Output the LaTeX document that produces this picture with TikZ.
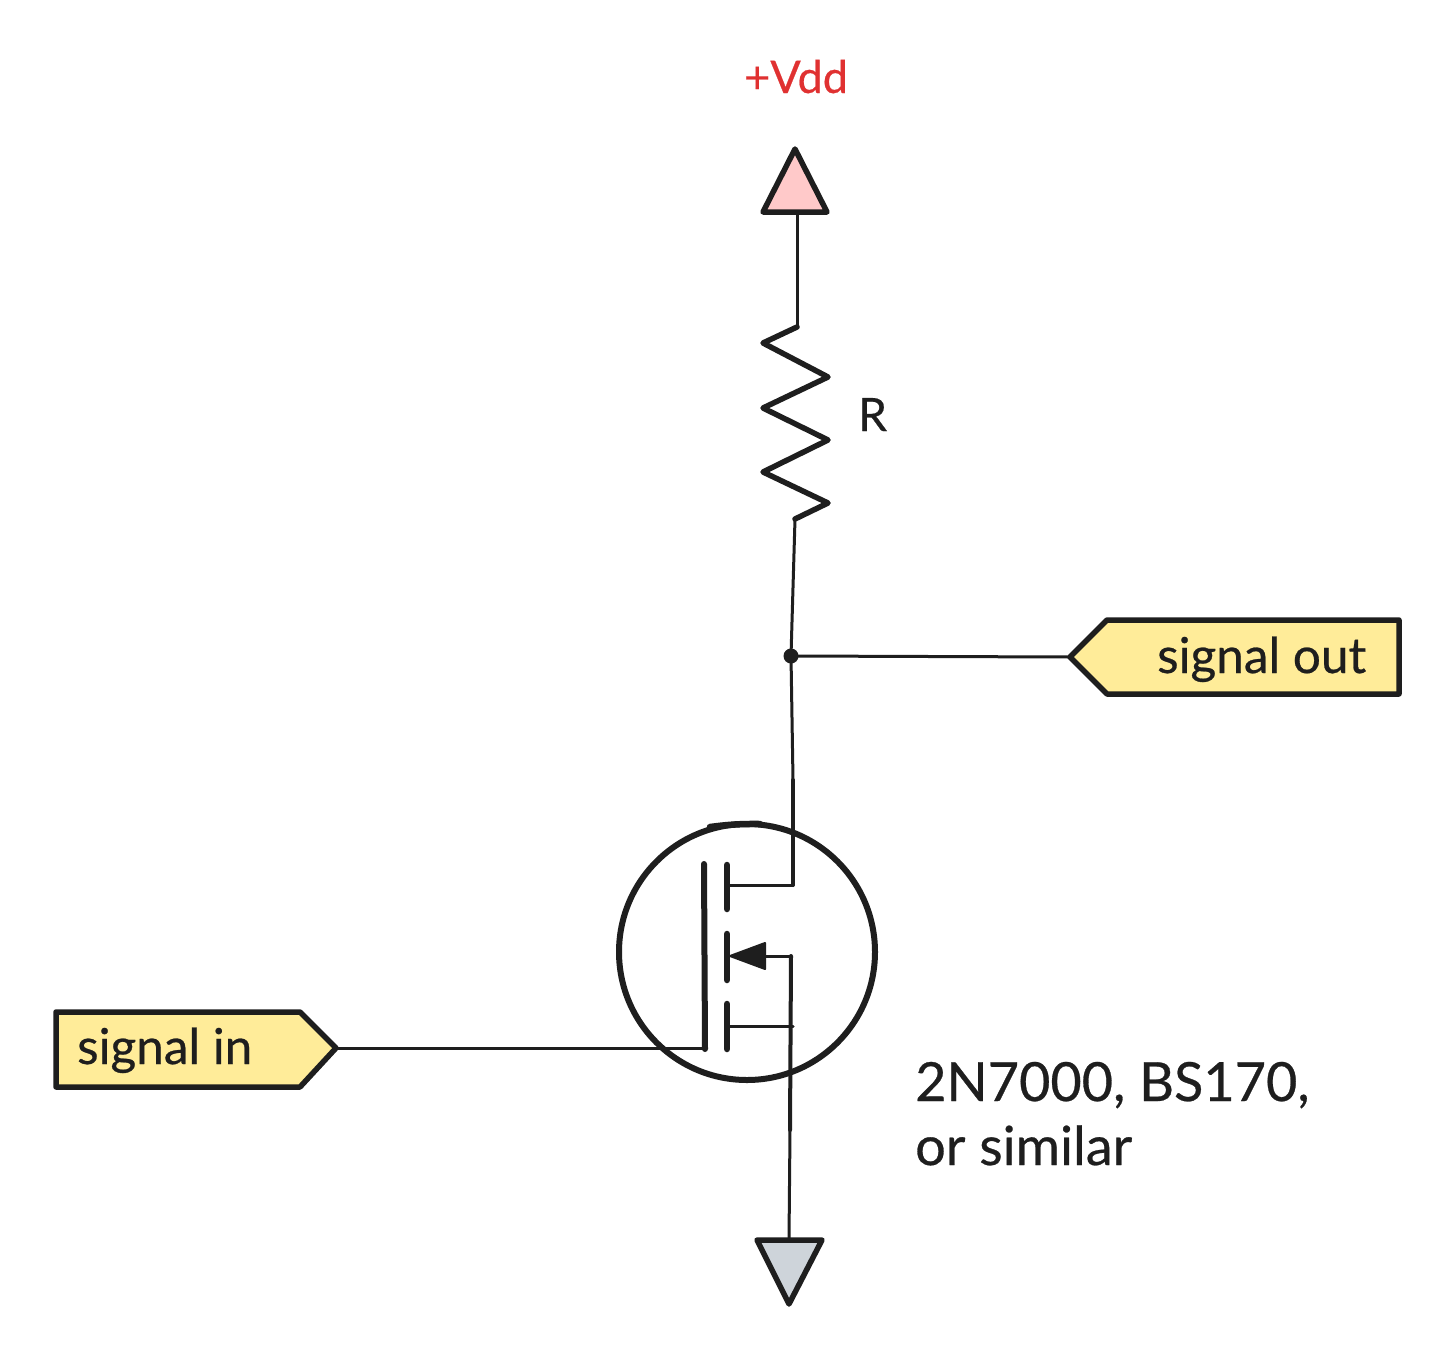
\documentclass[tikz,border=0pt]{standalone}
\usepackage{fontspec}
\setmainfont[FakeBold=0.5]{Lato}
\definecolor{ink}{HTML}{1E1E1E}
\definecolor{vddred}{HTML}{E03131}
\definecolor{vddfill}{HTML}{FFC9C9}
\definecolor{gndfill}{HTML}{CED4DA}
\definecolor{tagfill}{HTML}{FFEC99}
\tikzset{
  wire/.style={draw=ink,line width=3pt,line join=round,line cap=round},
  heavy/.style={draw=ink,line width=5.5pt,line join=round,line cap=round},
  bar/.style={draw=ink,line width=6.5pt,line cap=round},
  tagshape/.style={draw=ink,line width=5.5pt,line join=round,fill=tagfill},
  label/.style={inner sep=0pt,text=ink,anchor=base west},
  tagtext/.style={label,font=\fontsize{49.5}{58}\selectfont},
  parttext/.style={label,font=\fontsize{54}{64}\selectfont},
}
\begin{document}
\begin{tikzpicture}[x=1pt,y=-1pt]
\useasboundingbox (0,0) rectangle (1456,1357);
\fill[white] (0,0) rectangle (1456,1357);
% named points
\coordinate (vddbase) at (797,212);
\coordinate (rtop) at (797,327);
\coordinate (rbot) at (795,519);
\coordinate (junction) at (791,656);
\coordinate (drainend) at (793,780);
\coordinate (draincorner) at (793,885);
\coordinate (drainch) at (728,885);
\coordinate (srctip) at (730,956);
\coordinate (srcback) at (765,956);
\coordinate (srccorner) at (791,956);
\coordinate (bodych) at (728,1026);
\coordinate (bodyend) at (793,1026);
\coordinate (gndtop) at (789,1240);
\coordinate (gatein) at (704,1048);
\coordinate (tagintip) at (336,1048);
\coordinate (tagouttip) at (1070,657);
% transistor
\draw[draw=ink,line width=6pt] (747,952) circle (128);
\draw[draw=ink,line width=6.5pt,line cap=round] (710,827) to[bend left=4] (760,824);
\draw[draw=ink,line width=6pt,line cap=round] (704,864) -- (705,1049);
\draw[bar] (727,865) -- (727,909);
\draw[bar] (727,934) -- (727,980);
\draw[bar] (727,1004) -- (727,1049);
\fill[ink,draw=ink,line width=2pt,line join=round] (730,956) -- (765,943) -- (765,969) -- cycle;
% wires
\draw[wire] (vddbase) -- (rtop);
\draw[heavy] (rtop) -- (763,343) -- (828,377) -- (763,408) -- (828,440) -- (763,472) -- (828,503) -- (rbot);
\draw[wire] (rbot) -- (junction) -- (drainend);
\draw[wire,line width=4pt] (drainend) -- (draincorner);
\draw[wire] (draincorner) -- (drainch);
\draw[wire] (srcback) -- (srccorner);
\draw[wire,line width=4pt] (srccorner) -- (790,1130);
\draw[wire] (790,1130) -- (gndtop);
\draw[wire] (bodych) -- (bodyend);
\draw[wire] (tagintip) -- (gatein);
\draw[wire] (junction) -- (tagouttip);
\fill[ink] (junction) circle (7.5);
% supply triangles
\draw[heavy,fill=vddfill] (795,149) -- (827,212) -- (763,212) -- cycle;
\draw[heavy,fill=gndfill] (757,1240) -- (822,1240) -- (789,1304) -- cycle;
% tags
\draw[tagshape] (56,1012) -- (300,1012) -- (tagintip) -- (300,1087) -- (56,1087) -- cycle;
\draw[tagshape] (tagouttip) -- (1107,620) -- (1399,620) -- (1399,694) -- (1107,694) -- cycle;
% labels
\node[label,text=vddred,font=\fontsize{45}{52}\selectfont] (vdd) at (744,93) {+Vdd};
\node[label,font=\fontsize{46}{52}\selectfont] (rlabel) at (858,431) {R};
\node[tagtext] (sigout) at (1157,673) {signal out};
\node[tagtext] (sigin) at (77,1064) {signal in};
\node[parttext] (part1) at (915,1101) {2N7000, BS170,};
\node[parttext] (part2) at (915,1165) {or similar};
\end{tikzpicture}
\end{document}
